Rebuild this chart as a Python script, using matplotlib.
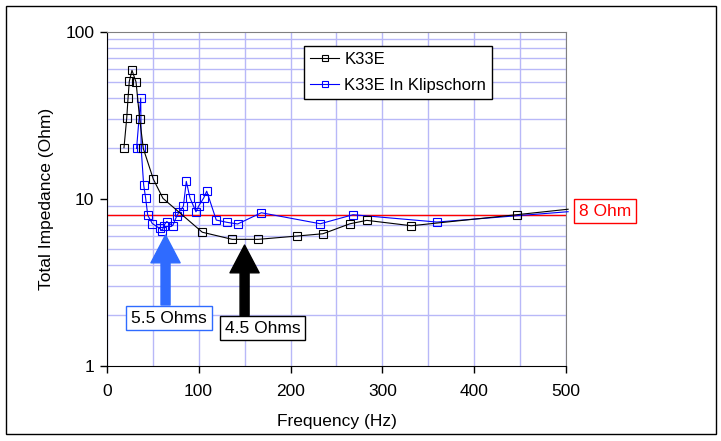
import matplotlib
matplotlib.use("Agg")
import matplotlib.pyplot as plt
from matplotlib.patches import Rectangle
import numpy as np

plt.rcParams['font.family'] = ['Liberation Sans', 'DejaVu Sans']

# Data
freq_k33e = [18.8, 21.8, 23.2, 24.6, 27.5, 31.9, 35.9, 39.8, 50.7, 61.2, 104, 136.6, 164.6,
             207.4, 235.3, 264.7, 282.9, 331.4, 446, 502]
imp_k33e = [20.2, 30.5, 40, 50.5, 58.7, 50, 30, 20, 13.1, 10.05, 6.3, 5.71, 5.71,
            5.98, 6.17, 7.08, 7.42, 6.89, 8.02, 8.65]

freq_klip = [32.5, 37, 37.5, 40.2, 42.4, 44.6, 49.6, 57.6, 60.5, 62, 65.3, 71.8, 76.2, 78.7,
             83.4, 86.6, 90.6, 97.1, 100.4, 105.5, 108.8, 119.2, 130.9, 142.5, 168.2, 232.4,
             268, 359.3, 502]
imp_klip = [20, 40, 20, 12.1, 10.05, 7.97, 7.1, 6.64, 6.43, 6.9, 7.3, 6.89, 7.88, 8.3,
            9.0, 12.7, 10.1, 8.35, 9.1, 10.1, 11.1, 7.45, 7.22, 7.06, 8.24, 7.08,
            8.02, 7.25, 8.36]

ref_level = 8
x_ticks = [0, 100, 200, 300, 400, 500]
y_ticks = [1, 10, 100]
y_ticklabels = ["1", "10", "100"]

fig = plt.figure(figsize=(7.21, 4.41), dpi=100)
ax = fig.add_axes([0.148, 0.1707, 0.6374, 0.7574])

ax.set_yscale('log')
ax.set_xlim(0, 500)
ax.set_ylim(1, 100)

grid_c = '#b8b8f8'
ax.set_xticks(x_ticks)
ax.set_xticks(np.arange(50, 500, 50), minor=True)
ax.set_yticks(y_ticks)
ax.set_yticklabels(y_ticklabels)
ax.xaxis.grid(True, which='both', color=grid_c, lw=1)
ax.yaxis.grid(True, which='minor', color=grid_c, lw=1)
ax.yaxis.grid(False, which='major')
ax.set_axisbelow(True)
ax.tick_params(axis='both', which='minor', length=0, labelleft=False, labelbottom=False)
ax.tick_params(axis='y', which='major', length=5, width=1, pad=4, labelsize=12.5, direction='out')
ax.tick_params(axis='x', which='major', length=5, width=1, pad=8, labelsize=12.5, direction='out')

for s in ['top', 'right']:
    ax.spines[s].set_color('#808080')
for s in ['left', 'bottom']:
    ax.spines[s].set_color('black')

# reference line
ax.plot([0, 500], [ref_level, ref_level], color='red', lw=1, zorder=2)

n1 = len(freq_k33e) - 1
n2 = len(freq_klip) - 1
ax.plot(freq_k33e, imp_k33e, color='black', lw=0.8, marker='s', ms=5.3, mfc='none', mec='black',
        mew=0.8, markevery=list(range(n1)), label='K33E', clip_on=False, zorder=4)
ax.plot(freq_klip, imp_klip, color='blue', lw=0.8, marker='s', ms=5.3, mfc='none', mec='blue',
        mew=0.8, markevery=list(range(n2)), label='K33E In Klipschorn', clip_on=False, zorder=3)

ax.set_xlabel('Frequency (Hz)', fontsize=12.5, labelpad=11)
ax.set_ylabel('Total Impedance (Ohm)', fontsize=12.5, labelpad=8)

leg = ax.legend(loc='upper left', bbox_to_anchor=(0.43, 0.958), fontsize=12, frameon=True,
                fancybox=False, edgecolor='black', framealpha=1, handlelength=1.75,
                handletextpad=0.3, labelspacing=0.7, borderpad=0.35, borderaxespad=0,
                markerscale=0.75)
leg.get_frame().set_linewidth(1)

# arrows
ax.annotate('', xy=(64, 6.06), xytext=(64, 2.31),
            arrowprops=dict(arrowstyle='simple,head_length=20,head_width=21,tail_width=6.5',
                            mutation_scale=1, color='#2f6bff', shrinkA=0, shrinkB=0))
ax.annotate('', xy=(150, 5.28), xytext=(150, 2.0),
            arrowprops=dict(arrowstyle='simple,head_length=20,head_width=21,tail_width=6.5',
                            mutation_scale=1, color='black', shrinkA=0, shrinkB=0))

ax.text(67.8, 1.93, '5.5 Ohms', fontsize=12.5, ha='center', va='center', zorder=6,
        bbox=dict(boxstyle='square,pad=0.27', fc='white', ec='#2f6bff', lw=1))
ax.text(169.8, 1.68, '4.5 Ohms', fontsize=12.5, ha='center', va='center', zorder=6,
        bbox=dict(boxstyle='square,pad=0.27', fc='white', ec='black', lw=1))
ax.text(542, 8.44, '8 Ohm', fontsize=12.5, color='red', ha='center', va='center', clip_on=False,
        bbox=dict(boxstyle='square,pad=0.27', fc='white', ec='red', lw=1))

fig.patches.append(Rectangle((5.5 / 721, 7 / 441), 710.5 / 721, 428 / 441,
                             transform=fig.transFigure, fill=False, edgecolor='black', lw=1))

fig.savefig('out.png', dpi=100)
